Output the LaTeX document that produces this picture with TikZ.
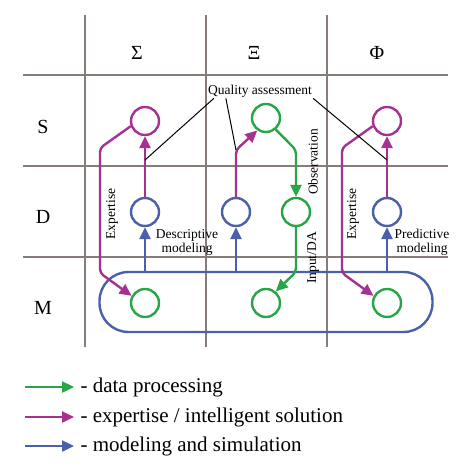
\documentclass[tikz,border=0pt]{standalone}
\usepackage{fontspec}
\setmainfont{Liberation Serif}
\usetikzlibrary{arrows.meta}
\definecolor{dgreen}{RGB}{40,165,70}
\definecolor{mag}{RGB}{165,50,145}
\definecolor{blu}{RGB}{75,95,170}
\definecolor{gridgray}{RGB}{135,125,120}
\begin{document}
\begin{tikzpicture}[x=1pt,y=-1pt,
	gridline/.style={draw=gridgray,line width=1.4pt},
	state/.style={circle,draw,line width=2.4pt,minimum size=28pt,inner sep=0pt},
	flow/.style={line width=2.4pt,rounded corners=4pt,-{Triangle[length=12pt,width=11pt]}},
	small/.style={font=\fontsize{13.5}{14}\selectfont,inner sep=1pt},
	head/.style={font=\fontsize{20}{22}\selectfont},
	big/.style={font=\fontsize{21}{23}\selectfont}]
	\useasboundingbox (0,0) rectangle (474,474);

	% table
	\draw[gridline] (23,75) -- (448,75);
	\draw[gridline] (23,166) -- (448,166);
	\draw[gridline] (23,257) -- (448,257);
	\draw[gridline] (85,15) -- (85,347);
	\draw[gridline] (206,15) -- (206,347);
	\draw[gridline] (327,15) -- (327,347);

	\node[head] (hS) at (137,53) {Σ};
	\node[head] (hX) at (254,53) {Ξ};
	\node[head] (hP) at (377,53) {Φ};
	\node[head] (rS) at (43,127) {S};
	\node[head] (rD) at (43,217) {D};
	\node[head] (rM) at (43,308) {M};

	% states
	\node[state,draw=mag] (sS) at (145,121) {};
	\node[state,draw=dgreen] (sX) at (266,118) {};
	\node[state,draw=mag] (sP) at (387,121) {};
	\node[state,draw=blu] (dS) at (145,212) {};
	\node[state,draw=blu] (dX) at (236,212) {};
	\node[state,draw=dgreen] (dXg) at (296,212) {};
	\node[state,draw=blu] (dP) at (387,212) {};
	\node[state,draw=dgreen] (mS) at (145,303) {};
	\node[state,draw=dgreen] (mX) at (266,303) {};
	\node[state,draw=dgreen] (mP) at (387,303) {};
	\node[draw=blu,line width=2.4pt,rounded corners=29pt,minimum width=333pt,minimum height=60pt] (model) at (266,302) {};

	% modeling
	\draw[flow,blu] (model.north -| dS) -- (dS);
	\draw[flow,blu] (model.north -| dX) -- (dX);
	\draw[flow,blu] (model.north -| dP) -- (dP);

	% expertise
	\draw[flow,mag] (dS) -- (sS);
	\draw[flow,mag] (dP) -- (sP);
	\draw[flow,mag] (sS.200) -- (100,148) -- (100,273) -- (mS.152);
	\draw[flow,mag] (sP.200) -- (342,148) -- (342,273) -- (mP.152);
	\coordinate (qX) at (236,150);
	\draw[flow,mag] (dX) -- (qX) -- (sX.235);

	% data
	\draw[flow,dgreen] (sX.-50) -- (296,150) -- (dXg);
	\draw[flow,dgreen] (dXg) -- (296,272) -- (mX.50);

	% labels
	\node[small] (qa) at (260,91) {Quality assessment};
	\coordinate (qS) at (145,160);
	\coordinate (qP) at (387,160);
	\draw[line width=1pt] ([xshift=7pt]qa.south west) -- (qS);
	\draw[line width=1pt] ([xshift=19pt]qa.south west) -- (qX);
	\draw[line width=1pt] (qa.south east) -- (qP);

	\node[small,rotate=90] (e1) at (112,214) {Expertise};
	\node[small,rotate=90] (e2) at (353,214) {Expertise};
	\node[small,rotate=90] (obs) at (313,162) {Observation};
	\node[small,rotate=90] (inp) at (313,258) {Input/DA};
	\node[small,align=center] (desc) at (187,242) {Descriptive\\modeling};
	\node[small,align=center] (pred) at (422,242) {Predictive\\modeling};

	% legend
	\node[big,anchor=west] (legG) at (77,387) {- data processing};
	\node[big,anchor=west] (legM) at (77,417) {- expertise / intelligent solution};
	\node[big,anchor=west] (legB) at (77,446) {- modeling and simulation};
	\draw[flow,dgreen] ([xshift=-52pt]legG.west) -- ([xshift=-3pt]legG.west);
	\draw[flow,mag] ([xshift=-52pt]legM.west) -- ([xshift=-3pt]legM.west);
	\draw[flow,blu] ([xshift=-52pt]legB.west) -- ([xshift=-3pt]legB.west);
\end{tikzpicture}
\end{document}
